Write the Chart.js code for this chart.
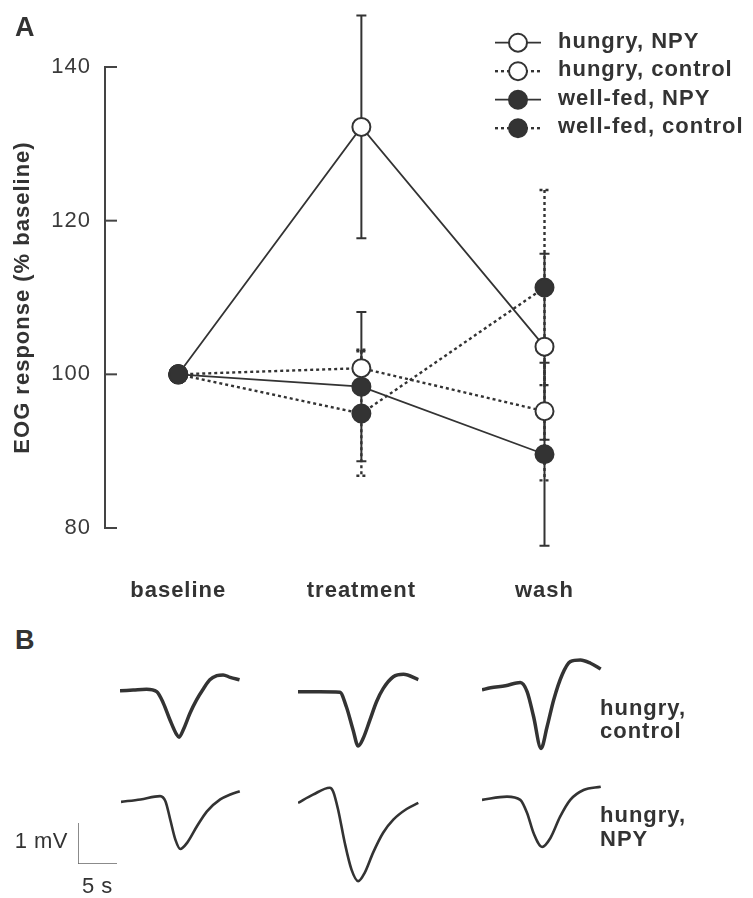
<!DOCTYPE html>
<html lang="en">
<head>
<meta charset="UTF-8">
<title>EOG response</title>
<script src="https://cdn.jsdelivr.net/npm/chart.js"></script>
<style>
    body { margin: 0; background: #fff; }
    #fig { position: relative; width: 753px; height: 898px; background: #fff; font-family: "Liberation Sans", Arial, sans-serif; color: #333; }
    #fig canvas { position: absolute; }
    .panel { position: absolute; font-weight: bold; font-size: 27px; line-height: 27px; }
    .lbl { position: absolute; font-weight: bold; font-size: 22px; letter-spacing: 1px; }
    .bar { position: absolute; font-size: 22px; line-height: 22px; letter-spacing: 0.5px; }
</style>
</head>
<body>
<div id="fig">
    <canvas id="chartA" width="753" height="620" style="left:0;top:0"></canvas>

    <div class="panel" style="left:15px;top:14px">A</div>
    <div class="panel" style="left:15px;top:627px">B</div>

    <canvas id="hcBase" width="131" height="133" style="left:117px;top:651px"></canvas>
    <canvas id="hcTreat" width="131" height="133" style="left:295px;top:652px"></canvas>
    <canvas id="hcWash" width="131" height="133" style="left:479px;top:650px"></canvas>
    <canvas id="hnBase" width="131" height="133" style="left:118px;top:762px"></canvas>
    <canvas id="hnTreat" width="131" height="133" style="left:295px;top:763px"></canvas>
    <canvas id="hnWash" width="131" height="133" style="left:479px;top:760px"></canvas>
    <canvas id="scaleBar" width="43" height="45" style="left:76px;top:821px"></canvas>

    <div class="lbl" style="left:600px;top:696px;line-height:23px">hungry,<br>control</div>
    <div class="lbl" style="left:600px;top:803px;line-height:24px">hungry,<br>NPY</div>
    <div class="bar" style="left:0;top:830px;width:68px;text-align:right">1 mV</div>
    <div class="bar" style="left:82px;top:875px">5 s</div>
</div>

<script>
    // panel A data
    const categories = ['baseline', 'treatment', 'wash'];
    const yTicks = [80, 100, 120, 140];
    const seriesNames = ['hungry, NPY', 'hungry, control', 'well-fed, NPY', 'well-fed, control'];

    const hungryNPY = [100, 132.2, 103.6];
    const hungryNPYErr = [0, 14.5, 12.1];
    const hungryControl = [100, 100.8, 95.2];
    const hungryControlErr = [0, 2.4, 9.0];
    const wellFedNPY = [100, 98.4, 89.6];
    const wellFedNPYErr = [0, 9.7, 11.9];
    const wellFedControl = [100, 94.9, 111.3];
    const wellFedControlErr = [0, 8.1, 12.7];

    // panel B traces: time (s) and EOG (mV, relative to start)
    const hcBaseT = [0, 1.7, 3.4, 4.7, 5.55, 6.4, 7.26, 7.56, 8.1, 8.97, 9.8, 10.7, 11.5, 12.4, 13.2, 14.1, 15.3];
    const hcBaseMV = [0, 0.02, 0.04, -0.02, -0.30, -0.71, -1.07, -1.13, -0.95, -0.54, -0.22, 0.06, 0.27, 0.37, 0.39, 0.33, 0.27];
    const hcTreatT = [0, 2.8, 5.35, 6.2, 7.05, 7.7, 8.33, 9.2, 10.05, 10.9, 12.2, 13.5, 15.4];
    const hcTreatMV = [0, 0, -0.01, -0.37, -0.93, -1.32, -1.14, -0.69, -0.24, 0.08, 0.37, 0.43, 0.30];
    const hcWashT = [0, 1.1, 3.0, 4.9, 5.77, 6.6, 7.56, 8.33, 9.18, 10.26, 11.3, 12.6, 13.9, 15.2];
    const hcWashMV = [0, 0.05, 0.10, 0.18, -0.04, -0.65, -1.43, -0.90, -0.24, 0.37, 0.69, 0.73, 0.65, 0.51];
    const hnBaseT = [0, 2.5, 5.0, 5.7, 6.3, 6.96, 7.6, 8.46, 9.74, 11.0, 12.7, 14.0, 15.2];
    const hnBaseMV = [0, 0.06, 0.14, 0.01, -0.43, -0.92, -1.15, -1.0, -0.59, -0.23, 0.06, 0.18, 0.26];
    const hnTreatT = [0, 1.92, 4.06, 4.5, 5.13, 5.99, 6.85, 7.7, 8.55, 9.6, 10.9, 12.2, 13.9, 15.4];
    const hnTreatMV = [0, 0.20, 0.37, 0.28, -0.16, -0.98, -1.63, -1.91, -1.70, -1.22, -0.73, -0.41, -0.15, 0.0];
    const hnWashT = [0, 3.2, 4.9, 5.77, 6.6, 7.7, 8.76, 10.0, 11.3, 13.0, 15.2];
    const hnWashMV = [0, 0.08, 0.0, -0.32, -0.81, -1.15, -0.93, -0.41, 0.0, 0.24, 0.32];

    const scaleBarMV = 1;
    const scaleBarS = 5;

    const ink = '#333';
    Chart.defaults.font.family = '"Liberation Sans", Arial, sans-serif';
    Chart.defaults.color = ink;

    function series(label, vals, errs, filled, dotted, order) {
        return {
            label: label,
            data: vals.map((v, i) => ({ x: i, y: v })),
            errs: errs,
            dotted: dotted,
            order: order,
            borderColor: ink,
            borderWidth: dotted ? 2.4 : 1.8,
            borderDash: dotted ? [3, 3] : [],
            pointRadius: 9,
            pointHoverRadius: 9,
            pointBorderWidth: 2,
            pointBackgroundColor: filled ? ink : '#fff',
            pointBorderColor: ink,
            tension: 0,
            clip: false
        };
    }

    // error bars go under the markers
    const errorBars = {
        id: 'errorBars',
        beforeDatasetsDraw(chart) {
            const ctx = chart.ctx, x = chart.scales.x, y = chart.scales.y;
            chart.data.datasets.forEach(d => {
                ctx.save();
                ctx.strokeStyle = ink;
                ctx.lineWidth = d.dotted ? 2.4 : 2;
                ctx.setLineDash(d.borderDash);
                d.data.forEach((p, i) => {
                    const e = d.errs[i];
                    if (!e) return;
                    const px = x.getPixelForValue(p.x);
                    const top = y.getPixelForValue(p.y + e);
                    const bot = y.getPixelForValue(p.y - e);
                    ctx.beginPath();
                    ctx.moveTo(px, top); ctx.lineTo(px, bot);
                    ctx.moveTo(px - 5, top); ctx.lineTo(px + 5, top);
                    ctx.moveTo(px - 5, bot); ctx.lineTo(px + 5, bot);
                    ctx.stroke();
                });
                ctx.restore();
            });
        }
    };

    // inward y ticks + legend
    const extras = {
        id: 'extras',
        beforeDraw(chart) {
            chart.ctx.letterSpacing = '1px';
        },
        afterDraw(chart) {
            const ctx = chart.ctx, y = chart.scales.y, left = chart.chartArea.left;
            ctx.save();
            ctx.strokeStyle = '#444';
            ctx.lineWidth = 2;
            yTicks.forEach(v => {
                const py = y.getPixelForValue(v);
                ctx.beginPath(); ctx.moveTo(left, py); ctx.lineTo(left + 12, py); ctx.stroke();
            });
            chart.data.datasets.forEach((d, i) => {
                const ly = 42.7 + i * 28.5;
                ctx.strokeStyle = ink;
                ctx.lineWidth = d.borderWidth;
                ctx.setLineDash(d.borderDash);
                ctx.beginPath(); ctx.moveTo(495, ly); ctx.lineTo(541, ly); ctx.stroke();
                ctx.setLineDash([]);
                ctx.lineWidth = 2;
                ctx.fillStyle = d.pointBackgroundColor;
                ctx.beginPath(); ctx.arc(518, ly, 9, 0, Math.PI * 2); ctx.fill(); ctx.stroke();
                ctx.fillStyle = ink;
                ctx.font = 'bold 22px "Liberation Sans", Arial, sans-serif';
                ctx.textBaseline = 'middle';
                ctx.fillText(seriesNames[i], 558, ly - 1);
            });
            ctx.restore();
        }
    };

    new Chart(document.getElementById('chartA'), {
        type: 'line',
        data: {
            datasets: [
                series(seriesNames[0], hungryNPY, hungryNPYErr, false, false, 3),
                series(seriesNames[1], hungryControl, hungryControlErr, false, true, 2),
                series(seriesNames[2], wellFedNPY, wellFedNPYErr, true, false, 1),
                series(seriesNames[3], wellFedControl, wellFedControlErr, true, true, 0)
            ]
        },
        options: {
            responsive: false,
            animation: false,
            events: [],
            layout: { padding: { top: 67, left: 0, right: 62, bottom: 12 } },
            plugins: { legend: { display: false }, tooltip: { enabled: false } },
            scales: {
                x: {
                    type: 'linear',
                    min: -0.4,
                    max: 2.8,
                    afterBuildTicks: s => { s.ticks = categories.map((c, i) => ({ value: i })); },
                    afterFit: s => { s.height = 80; },
                    grid: { display: false, drawTicks: false },
                    border: { display: false },
                    ticks: {
                        padding: 50,
                        autoSkip: false,
                        maxRotation: 0,
                        font: { size: 22, weight: 'bold' },
                        callback: v => categories[v]
                    }
                },
                y: {
                    min: 80,
                    max: 140,
                    afterBuildTicks: s => { s.ticks = yTicks.map(v => ({ value: v })); },
                    afterFit: s => { s.width = 105; },
                    grid: { display: false, drawTicks: false },
                    border: { display: true, color: '#444', width: 2 },
                    ticks: { padding: 14, font: { size: 22 }, color: '#3a3a3a' },
                    title: {
                        display: true,
                        text: 'EOG response (% baseline)',
                        font: { size: 22, weight: 'bold' },
                        padding: { top: 10, bottom: 0 }
                    }
                }
            }
        },
        plugins: [errorBars, extras]
    });

    // panel B: one small chart per trace, same mV/s scale everywhere
    function trace(id, t, mv, width) {
        new Chart(document.getElementById(id), {
            type: 'line',
            data: {
                datasets: [{
                    data: t.map((v, i) => ({ x: v, y: mv[i] })),
                    borderColor: ink,
                    borderWidth: width,
                    pointRadius: 0,
                    cubicInterpolationMode: 'monotone'
                }]
            },
            options: {
                responsive: false,
                animation: false,
                events: [],
                layout: { padding: 3 },
                plugins: { legend: { display: false }, tooltip: { enabled: false } },
                scales: {
                    x: { type: 'linear', min: 0, max: 16, display: false },
                    y: { min: -2.2, max: 0.9, display: false }
                }
            }
        });
    }

    trace('hcBase', hcBaseT, hcBaseMV, 3.5);
    trace('hcTreat', hcTreatT, hcTreatMV, 3.5);
    trace('hcWash', hcWashT, hcWashMV, 3.5);
    trace('hnBase', hnBaseT, hnBaseMV, 2.6);
    trace('hnTreat', hnTreatT, hnTreatMV, 2.6);
    trace('hnWash', hnWashT, hnWashMV, 2.6);

    new Chart(document.getElementById('scaleBar'), {
        type: 'line',
        data: {
            datasets: [{
                data: [{ x: 0, y: scaleBarMV }, { x: 0, y: 0 }, { x: scaleBarS, y: 0 }],
                borderColor: '#666',
                borderWidth: 1.5,
                pointRadius: 0,
                tension: 0
            }]
        },
        options: {
            responsive: false,
            animation: false,
            events: [],
            layout: { padding: 2 },
            plugins: { legend: { display: false }, tooltip: { enabled: false } },
            scales: {
                x: { type: 'linear', min: 0, max: scaleBarS, display: false },
                y: { min: 0, max: scaleBarMV, display: false }
            }
        }
    });
</script>
</body>
</html>
